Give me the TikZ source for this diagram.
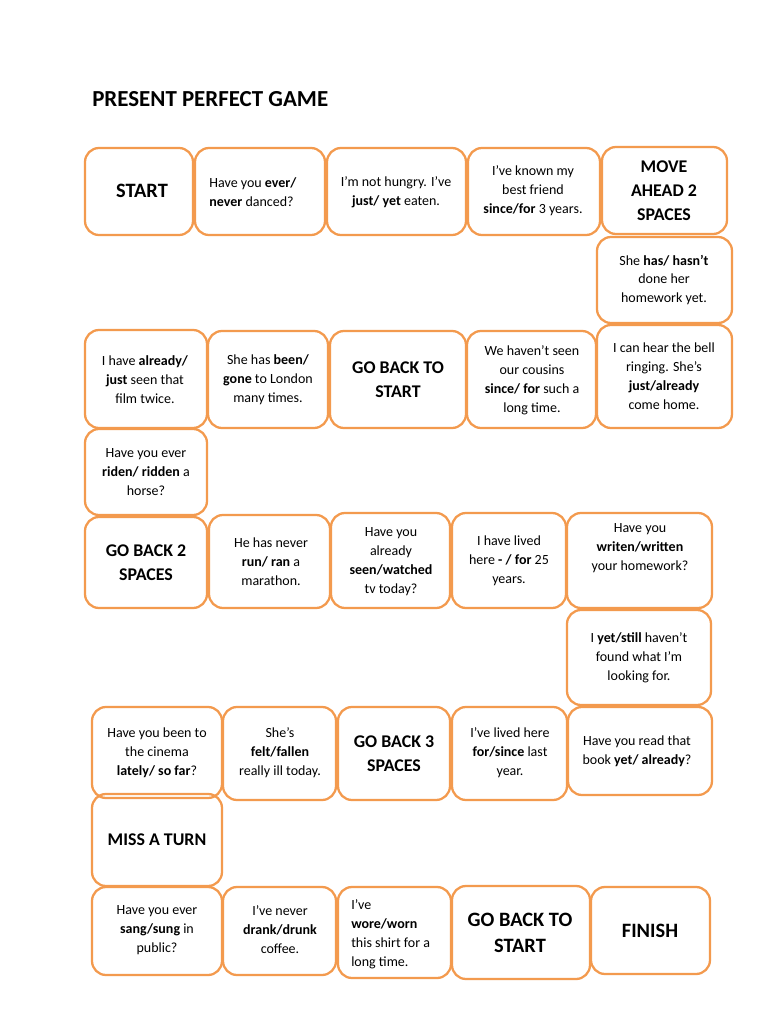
\documentclass[tikz,border=0pt]{standalone}
\usepackage{fontspec}
\setmainfont{Carlito}
\definecolor{boxorange}{HTML}{F39A4E}
\newcommand\cellbox[5]{\node[cell, minimum width={(#4-#2)*0.75pt}, minimum height={(#5-#3)*0.75pt}] (#1) at ({(#2+#4)/2},{(#3+#5)/2}) {};}
\tikzset{
  cell/.style={draw=boxorange, line width=1.7pt, rounded corners=10.5pt, inner sep=0pt},
  txt/.style={align=center, inner sep=0pt, font=\fontsize{10.5}{14.2}\selectfont},
  lbl/.style={align=center, inner sep=0pt, font=\bfseries\fontsize{13.4}{18}\selectfont},
  biglbl/.style={align=center, inner sep=0pt, font=\bfseries\fontsize{15.3}{20}\selectfont},
  ttl/.style={anchor=base west, inner sep=0pt, font=\bfseries\fontsize{17.2}{20}\selectfont}
}
\begin{document}
\begin{tikzpicture}[x=0.75pt,y=-0.75pt]
\useasboundingbox[fill=white] (0,0) rectangle (768,1024);
\node[ttl] (title) at (92,106) {PRESENT PERFECT GAME};
% boxes
\cellbox{b1}{85}{148}{193}{235}
\cellbox{b2}{195}{148}{325}{235}
\cellbox{b3}{327}{148}{466}{235}
\cellbox{b4}{468}{148}{600}{235}
\cellbox{b5}{602}{147}{727}{234}
\cellbox{b6}{597}{237}{732}{323}
\cellbox{b7}{597}{325}{732}{428}
\cellbox{b8}{85}{330}{207}{428}
\cellbox{b9}{208}{331}{328}{428}
\cellbox{b10}{330}{331}{466}{428}
\cellbox{b11}{467}{331}{596}{428}
\cellbox{b12}{85}{429}{207}{515}
\cellbox{b13}{85}{517}{207}{608}
\cellbox{b14}{209}{515}{330}{608}
\cellbox{b15}{331}{513}{450}{608}
\cellbox{b16}{452}{513}{566}{608}
\cellbox{b17}{567}{513}{712}{608}
\cellbox{b18}{567}{610}{711}{705}
\cellbox{b19}{92}{707}{222}{798}
\cellbox{b20}{223}{707}{336}{800}
\cellbox{b21}{338}{707}{450}{800}
\cellbox{b22}{452}{707}{567}{800}
\cellbox{b23}{568}{707}{712}{795}
\cellbox{b24}{92}{794}{222}{886}
\cellbox{b25}{92}{887}{222}{975}
\cellbox{b26}{223}{887}{336}{975}
\cellbox{b27}{338}{887}{451}{978}
\cellbox{b28}{452}{886}{590}{979}
\cellbox{b29}{591}{887}{710}{974}
% texts
\node[biglbl] (t1) at (142,191) {START};
\node[txt, align=left] (t2) at (253,192) {Have you \textbf{ever/}\\\textbf{never} danced?};
\node[txt] (t3) at (396,192) {I'm not hungry. I've\\\textbf{just/ yet} eaten.};
\node[txt] (t4) at (533,191) {I've known my\\best friend\\\textbf{since/for} 3 years.};
\node[lbl] (t5) at (664,191) {MOVE\\AHEAD 2\\SPACES};
\node[txt] (t6) at (664,280) {She \textbf{has/ hasn't}\\done her\\homework yet.};
\node[txt] (t7) at (664,376) {I can hear the bell\\ringing. She's\\\textbf{just/already}\\come home.};
\node[txt] (t8) at (145,380) {I have \textbf{already/}\\\textbf{just} seen that\\film twice.};
\node[txt] (t9) at (268,380) {She has \textbf{been/}\\\textbf{gone} to London\\many times.};
\node[lbl] (t10) at (398,380) {GO BACK TO\\START};
\node[txt] (t11) at (532,380) {We haven't seen\\our cousins\\\textbf{since/ for} such a\\long time.};
\node[txt] (t12) at (146,472) {Have you ever\\\textbf{riden/ ridden} a\\horse?};
\node[lbl] (t13) at (146,563) {GO BACK 2\\SPACES};
\node[txt] (t14) at (271,562) {He has never\\\textbf{run/ ran} a\\marathon.};
\node[txt] (t15) at (391,562) {Have you\\already\\\textbf{seen/watched}\\tv today?};
\node[txt] (t16) at (509,561) {I have lived\\here \textbf{- / for} 25\\years.};
\node[txt] (t17) at (640,548) {Have you\\\textbf{writen/written}\\your homework?};
\node[txt] (t18) at (639,658) {I \textbf{yet/still} haven't\\found what I'm\\looking for.};
\node[txt] (t19) at (157,753) {Have you been to\\the cinema\\\textbf{lately/ so far}?};
\node[txt] (t20) at (280,753) {She's\\\textbf{felt/fallen}\\really ill today.};
\node[lbl] (t21) at (394,754) {GO BACK 3\\SPACES};
\node[txt] (t22) at (510,753) {I've lived here\\\textbf{for/since} last\\year.};
\node[txt] (t23) at (637,751) {Have you read that\\book \textbf{yet/ already}?};
\node[lbl] (t24) at (157,840) {MISS A TURN};
\node[txt] (t25) at (157,930) {Have you ever\\\textbf{sang/sung} in\\public?};
\node[txt] (t26) at (280,930) {I've never\\\textbf{drank/drunk}\\coffee.};
\node[txt, align=left, anchor=west] (t27) at (351,934) {I've\\\textbf{wore/worn}\\this shirt for a\\long time.};
\node[biglbl] (t28) at (520,933) {GO BACK TO\\START};
\node[biglbl] (t29) at (650,931) {FINISH};
\end{tikzpicture}
\end{document}
